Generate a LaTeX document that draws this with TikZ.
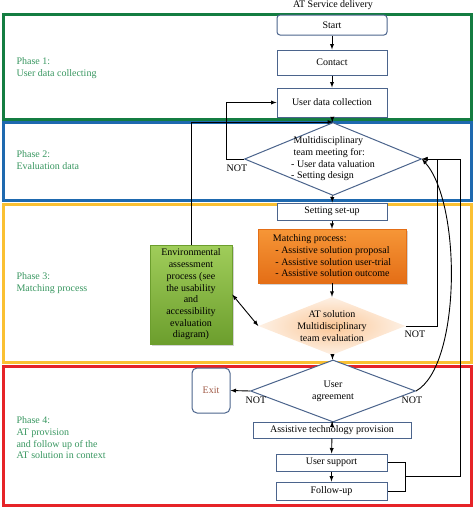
\documentclass[tikz,border=0pt]{standalone}
\usepackage{fontspec}
\setmainfont{Liberation Serif}
\usetikzlibrary{shapes.geometric,shadows,calc}

\definecolor{framegreen}{RGB}{20,125,65}
\definecolor{frameblue}{RGB}{30,105,175}
\definecolor{frameyellow}{RGB}{250,192,50}
\definecolor{framered}{RGB}{230,35,40}
\definecolor{phasetext}{RGB}{55,150,95}
\definecolor{boxline}{RGB}{75,100,140}
\definecolor{exittext}{RGB}{160,90,70}
\definecolor{orangetop}{RGB}{246,150,55}
\definecolor{orangebot}{RGB}{228,110,22}
\definecolor{greentop}{RGB}{160,205,90}
\definecolor{greenbot}{RGB}{108,158,45}
\definecolor{peach}{RGB}{250,198,150}

\begin{document}
\begin{tikzpicture}[x=1pt, y=-1pt, font=\fontsize{10}{11.7}\selectfont,
  frame/.style={line width=3pt},
  phase/.style={anchor=west, align=left, text=phasetext},
  box/.style={draw=boxline, line width=1pt, fill=white, minimum width=110pt, inner sep=1pt},
  decision/.style={diamond, draw=boxline, line width=1pt, fill=white, inner sep=-3pt},
  flow/.style={->, >=latex, line width=0.9pt},
  link/.style={line width=0.9pt}]
\useasboundingbox (0,0) rectangle (474,507);

% phase frames
\draw[frame, framegreen] (3,14) rectangle (471,119);
\draw[frame, frameblue] (3,122) rectangle (471,200);
\draw[frame, frameyellow] (3,204) rectangle (471,362);
\draw[frame, framered] (3,366) rectangle (471,505);

\node[phase] (p1) at (13,68) {Phase 1:\\User data collecting};
\node[phase] (p2) at (13,160) {Phase 2:\\Evaluation data};
\node[phase] (p3) at (13,283) {Phase 3:\\Matching process};
\node[phase] (p4) at (13,438) {Phase 4:\\AT provision\\and follow up of the\\AT solution in context};

\node (title) at (333,5) {AT Service delivery};

% main column
\node[box, rounded corners=3pt, minimum height=20pt] (start) at (332,25) {Start};
\node[box, minimum height=25pt] (contact) at (332,62.5) {Contact};
\node[box, minimum height=29pt] (udc) at (332,102.5) {User data collection};
\node[decision, minimum width=177pt, minimum height=73pt, shape aspect=2.4, align=left] (meet) at (333,159)
  {\ Multidisciplinary\\\ team meeting for:\\- User data valuation\\- Setting design};
\node[box, minimum height=17pt] (setup) at (332,211.5) {Setting set-up};
\node[draw=orangebot, top color=orangetop, bottom color=orangebot, minimum width=148pt, minimum height=54pt,
  align=left, drop shadow={opacity=0.35}] (match) at (332,256)
  {Matching process:\\\ - Assistive solution proposal\\\ - Assistive solution user-trial\\\ - Assistive solution outcome};
\node[diamond, inner color=peach, outer color=peach!25, minimum width=147pt, minimum height=58pt,
  shape aspect=2.5, inner sep=-1.5pt, align=center] (atsol) at (332,326)
  {AT solution\\Multidisciplinary\\team evaluation};
\node[draw=greenbot, top color=greentop, bottom color=greenbot, minimum width=82pt, minimum height=99pt,
  align=center, inner sep=1pt, drop shadow={opacity=0.35}] (env) at (191,294.5)
  {Environmental\\assessment\\process (see\\the usability\\and\\accessibility\\evaluation\\diagram)};
\node[decision, minimum width=165pt, minimum height=38pt, inner sep=0pt, align=center] (agree) at (333,391)
  {User\\agreement};
\node[draw=boxline, line width=1pt, rounded corners=5pt, minimum width=38pt, minimum height=45pt,
  text=exittext] (exit) at (211,390.5) {Exit};
\node[box, minimum width=158pt, minimum height=16pt] (atp) at (332,430) {Assistive technology provision};
\node[box, minimum width=111pt, minimum height=17pt] (support) at (331.5,462.5) {User support};
\node[box, minimum width=111pt, minimum height=18pt] (follow) at (331.5,491) {Follow-up};

% straight flow
\draw[flow] (start) -- (contact);
\draw[flow] (contact) -- (udc);
\draw[flow] (udc) -- (meet);
\draw[flow] (meet) -- (setup);
\draw[flow] (setup) -- (match);
\draw[flow] (match) -- (atsol);
\draw[flow] (atsol) -- (agree);
\draw[flow] (agree) -- (atp);
\draw[flow] (atp) -- (support);
\draw[flow] (support) -- (follow);
\draw[flow] (agree.west) -- (exit.east);

% loops back
\draw[flow] (meet.west) -- ++(-18,0) |- (udc.west);
\draw[flow] (env.north) |- (meet.north);
\draw[<->, >=latex, line width=0.9pt] (env.east) -- (atsol.west);
\draw[flow] (atsol.east) -- ++(32,0) |- (meet.east);
\draw[flow] (agree.east) .. controls +(45,-25) and +(40,45) .. (meet.east);
\draw[link] (support.east) -- ++(18,0) coordinate (us) |- (follow.east);
\coordinate (fb) at ($(us)!0.5!(us |- follow.east)$);
\draw[flow] (fb) -- ++(55,0) |- (meet.east);

\node (not1) at (237,168) {NOT};
\node (not2) at (415,334) {NOT};
\node (not3) at (256,400) {NOT};
\node (not4) at (412,400) {NOT};
\end{tikzpicture}
\end{document}
